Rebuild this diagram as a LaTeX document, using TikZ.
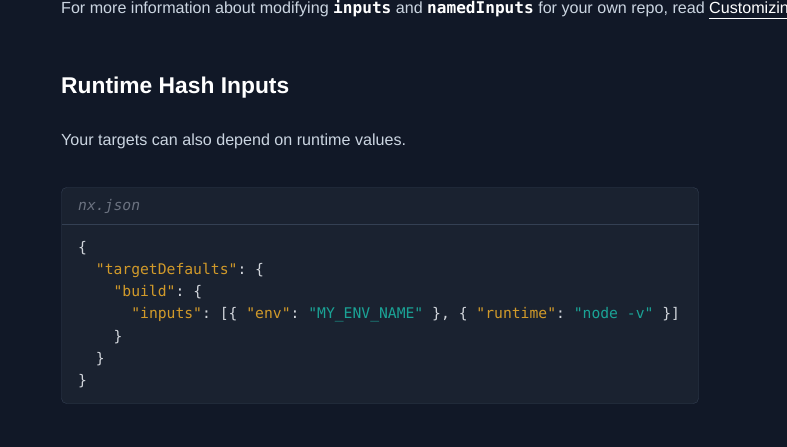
\documentclass[tikz,border=0pt]{standalone}
\usepackage{fontspec}
\setmainfont{Liberation Sans}
\setmonofont{DejaVu Sans Mono}
\definecolor{bg}{HTML}{111827}
\definecolor{codebg}{HTML}{1A2230}
\definecolor{bord}{HTML}{344053}
\definecolor{txt}{HTML}{CBD5E1}
\definecolor{keyc}{HTML}{D19A2A}
\definecolor{strc}{HTML}{1AA396}
\definecolor{punc}{HTML}{D1D5DB}
\definecolor{fname}{HTML}{6B7280}
\newcommand{\K}[1]{\textcolor{keyc}{#1}}
\newcommand{\Sv}[1]{\textcolor{strc}{#1}}
\begin{document}
\begin{tikzpicture}[x=1pt,y=-1pt,
  body/.style={anchor=west,inner sep=0pt,text=txt,font=\fontsize{16.1}{19}\selectfont},
  code/.style={anchor=west,inner sep=0pt,text=punc,font=\fontsize{14.7}{17}\selectfont\ttfamily}]
\useasboundingbox (0,0) rectangle (787,447);
\fill[bg] (0,0) rectangle (787,447);
\begin{scope}
\clip (0,0) rectangle (787,447);
\node[body] (intro) at (61,10) {For more information about modifying \textcolor{white}{\bfseries\ttfamily inputs} and \textcolor{white}{\bfseries\ttfamily namedInputs} for your own repo, read \textcolor{white}{\underline{Customizing Inputs}}};
\end{scope}
\node[anchor=west,inner sep=0pt,text=white,font=\fontsize{22.8}{27}\selectfont\bfseries] (title) at (61,88) {Runtime Hash Inputs};
\node[body] (para) at (61,141) {Your targets can also depend on runtime values.};
\draw[bord,fill=codebg,rounded corners=5pt] (61.5,187.5) rectangle (698.5,403.5);
\draw[bord] (61.5,224.5) -- (698.5,224.5);
\node[anchor=west,inner sep=0pt,text=fname,font=\fontsize{14.7}{17}\selectfont\ttfamily\itshape] (fn) at (78,206) {nx.json};
\node[code] (l1) at (78,248) {\{};
\node[code] (l2) at (78,270) {\ \ \K{"targetDefaults"}: \{};
\node[code] (l3) at (78,292) {\ \ \ \ \K{"build"}: \{};
\node[code] (l4) at (78,315) {\ \ \ \ \ \ \K{"inputs"}: [\{ \K{"env"}: \Sv{"MY\_ENV\_NAME"} \}, \{ \K{"runtime"}: \Sv{"node -v"} \}]};
\node[code] (l5) at (78,337) {\ \ \ \ \}};
\node[code] (l6) at (78,359) {\ \ \}};
\node[code] (l7) at (78,381) {\}};
\end{tikzpicture}
\end{document}
